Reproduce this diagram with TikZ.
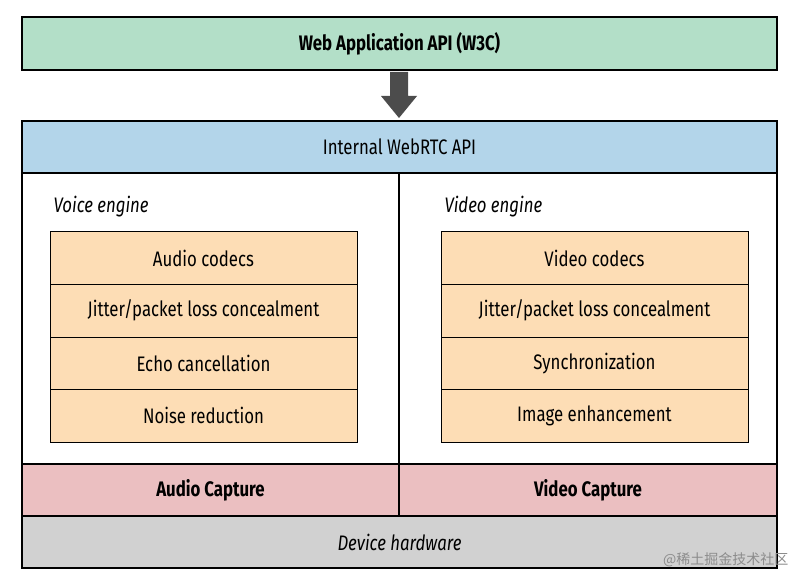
\documentclass[tikz,border=0pt]{standalone}
\usepackage{fontspec}
\setmainfont{Fira Sans}[FakeStretch=0.8]
\newfontfamily\cjk{Noto Sans CJK SC}
\begin{document}
\begin{tikzpicture}[x=1pt,y=-1pt,
  box/.style={draw=black,line width=1.3pt},
  lab/.style={font=\fontsize{21}{24}\selectfont},
  blab/.style={font=\fontsize{21}{24}\selectfont\bfseries}]
\useasboundingbox (0,0) rectangle (806,588);
\definecolor{gr}{HTML}{B3DFC8}\definecolor{bl}{HTML}{B3D5EA}
\definecolor{og}{HTML}{FDDDB5}\definecolor{pk}{HTML}{EBBFC1}\definecolor{hw}{HTML}{D1D1D1}
\draw[box,fill=gr] (22,17) rectangle (777,70);
\node[blab] (web) at (399.5,44) {Web Application API (W3C)};
\fill[black!70] (390,72) -- (408,72) -- (408,96) -- (417,96) -- (399,118) -- (381,96) -- (390,96) -- cycle;
\draw[box,fill=white] (22,173) rectangle (777,464);
\draw[box] (399,173) -- (399,464);
\draw[box,fill=bl] (22,121) rectangle (777,173);
\node[lab] (int) at (399.5,147) {Internal WebRTC API};
\node[lab,font=\fontsize{21}{24}\selectfont\itshape,anchor=west] (ve) at (50,207) {Voice engine};
\node[lab,font=\fontsize{21}{24}\selectfont\itshape,anchor=west] (vd) at (441,207) {Video engine};
\foreach \t [count=\i] in {Audio codecs,Jitter/packet loss concealment,Echo cancellation,Noise reduction}{
  \draw[box,line width=1pt,fill=og] (50,{232+52.5*(\i-1)}) rectangle (357,{232+52.5*\i});
  \node[lab] (a\i) at (203.5,{232+52.5*(\i-0.5)}) {\t};}
\foreach \t [count=\i] in {Video codecs,Jitter/packet loss concealment,Synchronization,Image enhancement}{
  \draw[box,line width=1pt,fill=og] (441,{232+52.5*(\i-1)}) rectangle (748,{232+52.5*\i});
  \node[lab] (b\i) at (594.5,{232+52.5*(\i-0.5)}) {\t};}
\draw[box,fill=pk] (22,464) rectangle (399,516);
\draw[box,fill=pk] (399,464) rectangle (777,516);
\node[blab] (ac) at (210.5,490) {Audio Capture};
\node[blab] (vc) at (588,490) {Video Capture};
\draw[box,fill=hw] (22,516) rectangle (777,568);
\node[lab,font=\fontsize{21}{24}\selectfont\itshape] (dh) at (399.5,542) {Device hardware};
\node[anchor=east,text=black!45,font=\cjk\fontsize{14}{16}\selectfont] (wm) at (792,560) {@稀土掘金技术社区};
\end{tikzpicture}
\end{document}
